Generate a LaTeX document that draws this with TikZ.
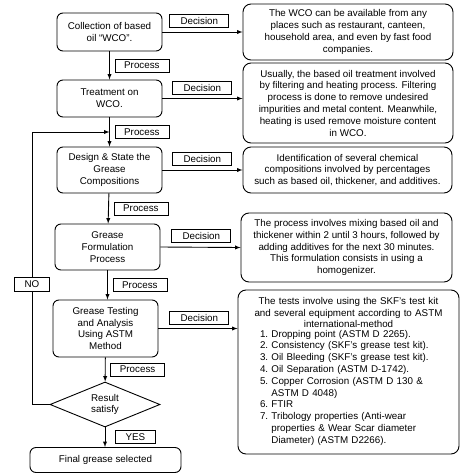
\documentclass[tikz,border=0pt]{standalone}
\usepackage{fontspec}
\setmainfont{Liberation Sans}
\usetikzlibrary{arrows,shapes.geometric,positioning}

\begin{document}
\begin{tikzpicture}[x=1pt, y=-1pt, ->, >=latex, line width=0.9pt,
	every node/.style={font=\fontsize{9.8}{11.8}\selectfont},
	stage/.style={draw, rectangle, rounded corners=6pt, align=center, minimum width=105pt, inner sep=2pt},
	note/.style={draw, rectangle, rounded corners=8pt, align=center, inner sep=2pt},
	tag/.style={draw, rectangle, fill=white, minimum height=13pt, inner sep=1pt, line width=0.8pt},
	check/.style={draw, diamond, aspect=2.4, minimum width=110pt, minimum height=45pt, inner sep=0pt, align=center}
]
\useasboundingbox (0,0) rectangle (474,474);

% left column
\node [stage, minimum height=38pt] (collect) at (109.5,32) {Collection of based\\ oil “WCO”.};
\node [stage, minimum height=37pt] (treat) at (109.5,98.5) {Treatment on\\ WCO.};
\node [stage, minimum height=46pt] (design) at (109.5,170) {Design \& State the\\ Grease\\ Compositions};
\node [stage, minimum height=46pt] (formul) at (107.5,247) {Grease\\ Formulation\\ Process};
\node [stage, minimum height=57pt] (testing) at (105.5,328.5) {Grease Testing\\ and Analysis\\ Using ASTM\\ Method};
\node [check] (result) at (105,404.5) {Result\\ satisfy};
\node [stage, minimum width=151pt, minimum height=25pt] (final) at (105.5,460) {Final grease selected};

% right column
\node [note, minimum width=210pt, minimum height=56pt] (wco) at (348,32) {The WCO can be available from any\\ places such as restaurant, canteen,\\ household area, and even by fast food\\ companies.};
\node [note, minimum width=210pt, minimum height=80pt] (filter) at (348,103) {Usually, the based oil treatment involved\\ by filtering and heating process. Filtering\\ process is done to remove undesired\\ impurities and metal content. Meanwhile,\\ heating is used remove moisture content\\ in WCO.};
\node [note, minimum width=209pt, minimum height=46pt] (chem) at (347.5,170) {Identification of several chemical\\ compositions involved by percentages\\ such as based oil, thickener, and additives.};
\node [note, minimum width=211pt, minimum height=69pt] (mixing) at (346.5,247.5) {The process involves mixing based oil and\\ thickener within 2 until 3 hours, followed by\\ adding additives for the next 30 minutes.\\ This formulation consists in using a\\ homogenizer.};
\node [note, minimum width=221pt, minimum height=164pt, align=left, text width=213pt] (tests) at (348.5,372) {%
	{\centering The tests involve using the SKF's test kit\\ and several equipment according to ASTM\\ international-method\par}
	\hspace*{18pt}\begin{tabular}{@{}r@{\ }l@{}}
	1.& Dropping point (ASTM D 2265).\\
	2.& Consistency (SKF's grease test kit).\\
	3.& Oil Bleeding (SKF's grease test kit).\\
	4.& Oil Separation (ASTM D-1742).\\
	5.& Copper Corrosion (ASTM D 130 \&\\
	  & ASTM D 4048)\\
	6.& FTIR\\
	7.& Tribology properties (Anti-wear\\
	  & properties \& Wear Scar diameter\\
	  & Diameter) (ASTM D2266).
	\end{tabular}};

% process arrows
\draw (collect) -- node [tag, minimum width=54pt, right=5pt] {Process} (treat);
\draw (treat) -- node [tag, minimum width=54pt, right=5pt] {Process} (design);
\draw (design) -- node [tag, minimum width=54pt, right=5pt] {Process} (formul);
\draw (formul.south) -- node [tag, minimum width=54pt, right=5pt] {Process} (formul.south |- testing.north);
\draw (testing) -- node [tag, minimum width=54pt, right=5pt] {Process} (result);
\draw (result) -- node [tag, minimum width=40pt, right=10pt] {YES} (result.south |- final.north);

% decision arrows
\draw (collect.east) -- (wco.west);
\draw (treat.east) -- (treat.east -| filter.west);
\draw (design.east) -- (chem.west);
\draw (formul.east) -- (mixing.west);
\draw (testing.east) -- (testing.east -| tests.west);
\node [tag, minimum width=59pt, above right=4pt and 7pt of collect.east] {Decision};
\node [tag, minimum width=59pt, above right=4pt and 10pt of treat.east] {Decision};
\node [tag, minimum width=59pt, above right=4pt and 10pt of design.east] {Decision};
\node [tag, minimum width=59pt, above right=4pt and 11pt of formul.east] {Decision};
\node [tag, minimum width=59pt, above right=4pt and 11pt of testing.east] {Decision};

% loop back
\coordinate (back) at (32,132);
\draw (result.west) -| (back) -- (treat.south |- back);
\node [tag, minimum width=35pt, minimum height=14pt] (no) at (back |- 0,284) {NO};
\end{tikzpicture}
\end{document}
